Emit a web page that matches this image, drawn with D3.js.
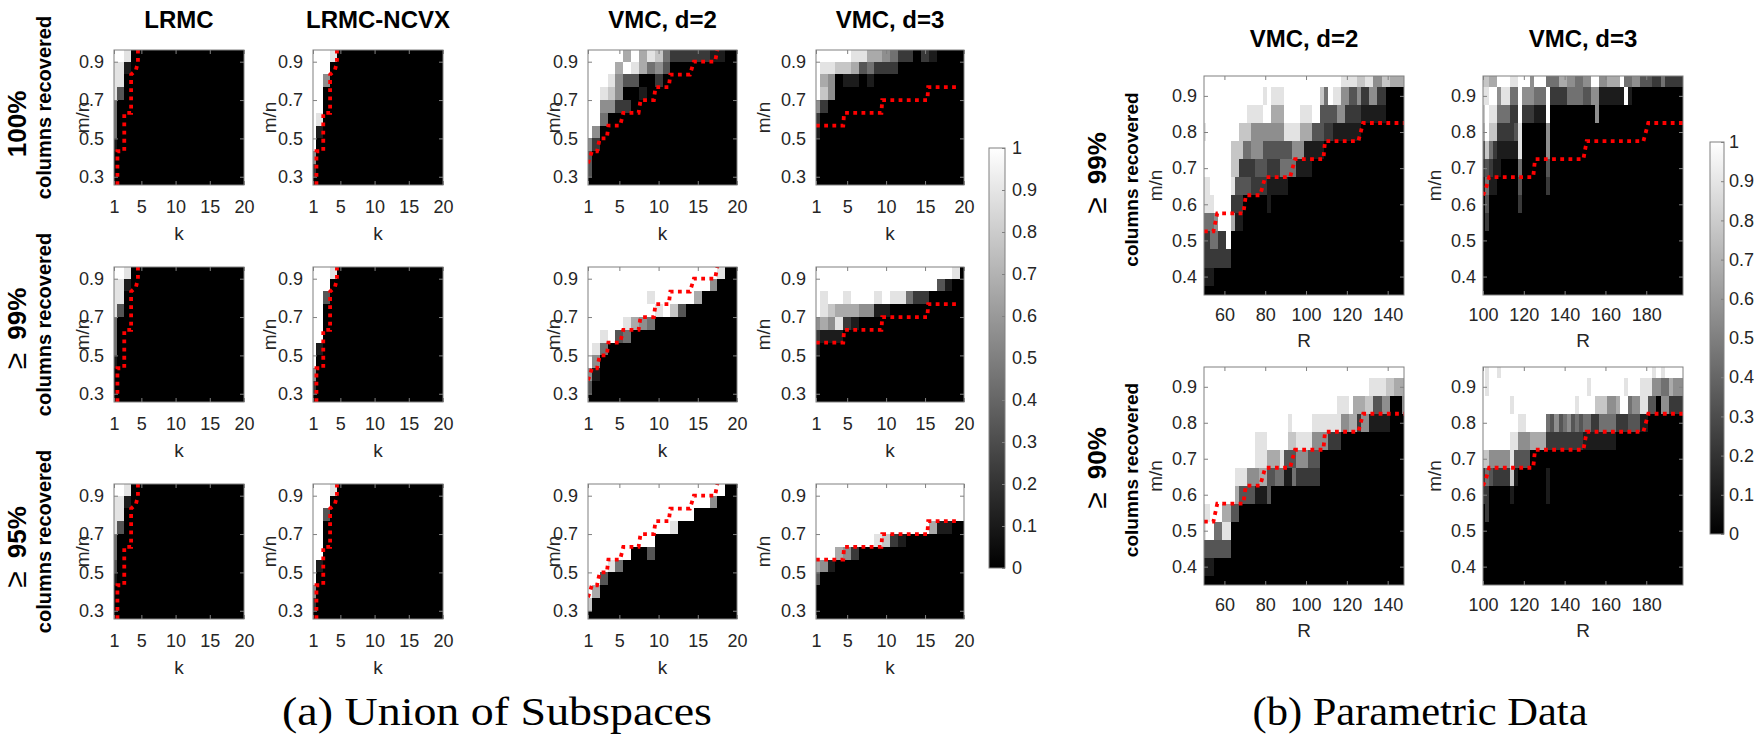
<!DOCTYPE html>
<html>
<head>
<meta charset="utf-8">
<script src="https://cdn.jsdelivr.net/npm/d3@7"></script>
<style>
body { margin: 0; background: #fff; }
svg { display: block; }
text { font-family: "Liberation Sans", Arial, Helvetica, sans-serif; }
</style>
</head>
<body>
<svg id="chart" width="1762" height="736"></svg>
<script>
// ---------- data (a) Union of Subspaces ----------
var kVals = [1,2,3,4,5,6,7,8,9,10,11,12,13,14,15,16,17,18,19,20];
var kTicks = [1,5,10,15,20];
// m/n row centres, top row first
var mnA = [0.9333,0.8667,0.8,0.7333,0.6667,0.6,0.5333,0.4667,0.4,0.3333,0.2667];
var mnTicksA = [0.3,0.5,0.7,0.9];

// gray level per cell, 0 = black ... 9 = white (rows top -> bottom, columns k=1..20)
var lrmc100 = ["9980000000 0000000000","8810000000 0000000000","8800000000 0000000000","8300000000 0000000000","4000000000 0000000000","4000000000 0000000000","4000000000 0000000000","1000000000 0000000000","0000000000 0000000000","0000000000 0000000000","0000000000 0000000000"];
var lrmc99  = ["9980000000 0000000000","8810000000 0000000000","8800000000 0000000000","8300000000 0000000000","4000000000 0000000000","4000000000 0000000000","4000000000 0000000000","1000000000 0000000000","0000000000 0000000000","0000000000 0000000000","0000000000 0000000000"];
var lrmc95  = ["9980000000 0000000000","8810000000 0000000000","8800000000 0000000000","8300000000 0000000000","4000000000 0000000000","4000000000 0000000000","3000000000 0000000000","1000000000 0000000000","0000000000 0000000000","0000000000 0000000000","0000000000 0000000000"];
var ncvx100 = ["9998000000 0000000000","9990000000 0000000000","9950000000 0000000000","9900000000 0000000000","9900000000 0000000000","9800000000 0000000000","9100000000 0000000000","9000000000 0000000000","5000000000 0000000000","2000000000 0000000000","0000000000 0000000000"];
var ncvx99  = ["9998000000 0000000000","9990000000 0000000000","9930000000 0000000000","9900000000 0000000000","9900000000 0000000000","9900000000 0000000000","9100000000 0000000000","9000000000 0000000000","5000000000 0000000000","2000000000 0000000000","0000000000 0000000000"];
var ncvx95  = ["9998000000 0000000000","9990000000 0000000000","9930000000 0000000000","9900000000 0000000000","9900000000 0000000000","9900000000 0000000000","9100000000 0000000000","9000000000 0000000000","5000000000 0000000000","2000000000 0000000000","0000000000 0000000000"];
var vmc2a100 = ["9999969687 4222221100","9999698645 3000000000","9998533002 0000000000","9987500100 0000000000","9955220000 0000000000","9940000000 0000000000","9500000000 0000000000","5200000000 0000000000","3000000000 0000000000","3000000000 0000000000","0000000000 0000000000"];
var vmc3a100 = ["9999988665 4220210000","9887763422 2000000000","9650110100 0000000000","9750000000 0000000000","5200000000 0000000000","2000000000 0000000000","1000000000 0000000000","0000000000 0000000000","0000000000 0000000000","0000000000 0000000000","0000000000 0000000000"];
var vmc2a99 = ["9999999999 9999999800","9999999999 9999995000","9999999989 9999600000","9999999998 9730000000","9999986540 0000000000","9989340000 0000000000","9840000000 0000000000","9500000000 0000000000","5100000000 0000000000","3000000000 0000000000","0000000000 0000000000"];
var vmc3a99 = ["9999999999 9999999980","9999999999 9999993100","9899899989 8842200000","9876665511 0000000000","5658210000 0000000000","2111000000 0000000000","1000000000 0000000000","0000000000 0000000000","0000000000 0000000000","0000000000 0000000000","0000000000 0000000000"];
var vmc2a95 = ["9999999999 9999999900","9999999999 9999995000","9999999999 9999000000","9999999999 9800000000","9999999990 0000000000","9999990030 0000000000","9998400000 0000000000","9930000000 0000000000","9600000000 0000000000","7000000000 0000000000","0000000000 0000000000"];
var vmc3a95 = ["9999999999 9999999999","9999999999 9999999999","9999999999 9999999999","9999999999 9999961100","9999999987 2100000000","9996520000 0000000000","6510000000 0000000000","3000000000 0000000000","0000000000 0000000000","0000000000 0000000000","0000000000 0000000000"];

// red dotted bounds, [k, m/n]
var lrmcBound = [[1.5,0.257],[1.5,0.433],[2.5,0.433],[2.5,0.633],[3.5,0.633],[3.5,0.833],[4.2,0.855],[4.5,0.9],[4.5,0.962]];
var vmc2aBound = [[1,0.37],[1.5,0.433],[2.15,0.433],[2.5,0.5],[3.4,0.5],[3.6,0.567],[5.1,0.567],[5.5,0.633],[7.45,0.633],[7.7,0.7],[9.4,0.7],[9.6,0.767],[11.3,0.767],[11.5,0.833],[14,0.833],[14.5,0.9],[17.2,0.9],[17.5,0.962]];
var vmc3aBound = [[1,0.567],[4.5,0.567],[4.6,0.633],[9.4,0.633],[9.5,0.7],[15.3,0.7],[15.4,0.767],[19.1,0.767]];

// ---------- data (b) Parametric Data ----------
var rD2 = [50,52,54,56,58,60,62,64,66,68,70,72,74,76,78,80,82,84,86,88,90,92,94,96,98,100,102,104,106,108,110,112,114,116,118,120,122,124,126,128,130,132,134,136,138,140,142,144,146,148];
var rD3 = [100,102,104,106,108,110,112,114,116,118,120,122,124,126,128,130,132,134,136,138,140,142,144,146,148,150,152,154,156,158,160,162,164,166,168,170,172,174,176,178,180,182,184,186,188,190,192,194,196,198];
var rTicks2 = [60,80,100,120,140];
var rTicks3 = [100,120,140,160,180];
var mnB = [0.95,0.9,0.85,0.8,0.75,0.7,0.65,0.6,0.55,0.5,0.45,0.4,0.35];
var mnTicksB = [0.4,0.5,0.6,0.7,0.8,0.9];

var vmc2b99 = [
 "9999999999 9999999999 9999999999 9999888877 8855776666",
 "9999999999 9999989888 9999999997 4988553352 2552200000",
 "9999999999 9888899666 9999888993 3335522221 1111100000",
 "8999999997 7755555555 8888666333 2211111110 0000000000",
 "9999999777 4455533333 3355511111 0000000000 0000000000",
 "9999999772 2223332224 4441111000 0000000000 0000000000",
 "8899999833 3322221111 1000000000 0000000000 0000000000",
 "8889999222 0000001000 0000000000 0000000000 0000000000",
 "4445999611 0000000000 0000000000 0000000000 0000000000",
 "2244229000 0000000000 0000000000 0000000000 0000000000",
 "2222222000 0000000000 0000000000 0000000000 0000000000",
 "1110000000 0000000000 0000000000 0000000000 0000000000",
 "0000000000 0000000000 0000000000 0000000000 0000000000"];
var vmc3b99 = [
 "7766999889 9959994446 6554455995 5666944553 3322422222",
 "8899588449 5554449222 2444433551 1111191000 0000000000",
 "7988444229 2221119000 0000000050 0000000000 0000000000",
 "6977222238 0000005000 0000000000 0000000000 0000000000",
 "3742111118 0000005000 0000000000 0000000000 0000000000",
 "2321100004 0000003000 0000000000 0000000000 0000000000",
 "1411000003 0000002000 0000000000 0000000000 0000000000",
 "0300000002 0000000000 0000000000 0000000000 0000000000",
 "0200000000 0000000000 0000000000 0000000000 0000000000",
 "0000000000 0000000000 0000000000 0000000000 0000000000",
 "0000000000 0000000000 0000000000 0000000000 0000000000",
 "0000000000 0000000000 0000000000 0000000000 0000000000",
 "0000000000 0000000000 0000000000 0000000000 0000000000"];
var vmc2b90 = [
 "9999999999 9999999999 9999999999 9999999999 9999999999",
 "9999999999 9999999999 9999999999 9999999999 9888877666",
 "9999999999 9999999999 9999999999 9998889666 7733550005",
 "9999999999 9999999999 9899999888 8888556625 5111110000",
 "9999999999 9998889999 9778888555 5222000000 0000000000",
 "9999999999 9998886668 3335553330 0000000000 0000000000",
 "9999999988 8555663344 1142222220 0000000000 0000000000",
 "9999999963 3331113000 0000000000 0000000000 0000000000",
 "8899966330 0000000000 0000000000 0000000000 0000000000",
 "8994488000 0000000000 0000000000 0000000000 0000000000",
 "3333333000 0000000000 0000000000 0000000000 0000000000",
 "1110000000 0000000000 0000000000 0000000000 0000000000",
 "0000000000 0000000000 0000000000 0000000000 0000000000"];
var vmc3b90 = [
 "9899899999 9999999999 9999999999 9999999999 9989899999",
 "9899999999 9999999999 9999998999 9999989998 8855446555",
 "9999999899 9999999999 9998999977 7556994558 8330552222",
 "9999999998 8999994353 4534344224 4442223331 1000000000",
 "9999999885 5566662222 2222211111 1110000000 0000000000",
 "7755555833 3300000000 0000000000 0000000000 0000000000",
 "2432222710 0000001000 0000000000 0000000000 0000000000",
 "2200000100 0000001000 0000000000 0000000000 0000000000",
 "0200000000 0000000000 0000000000 0000000000 0000000000",
 "0000000000 0000000000 0000000000 0000000000 0000000000",
 "0000000000 0000000000 0000000000 0000000000 0000000000",
 "0000000000 0000000000 0000000000 0000000000 0000000000",
 "0000000000 0000000000 0000000000 0000000000 0000000000"];

// [R, m/n]
var vmc2bBound = [[50,0.525],[54.6,0.525],[56.5,0.575],[69.3,0.575],[70.5,0.625],[77.5,0.625],[80,0.675],[92.2,0.675],[94.6,0.725],[108.5,0.725],[109.3,0.775],[125.6,0.775],[128,0.825],[148,0.825]];
var vmc3bBound = [[100,0.625],[101.5,0.645],[103,0.675],[124.6,0.675],[125.5,0.725],[149.2,0.725],[150.8,0.775],[178.6,0.775],[181,0.825],[198,0.825]];

var cbTicks = [0,0.1,0.2,0.3,0.4,0.5,0.6,0.7,0.8,0.9,1];
var titlesA = ["LRMC","LRMC-NCVX","VMC, d=2","VMC, d=3"];
var titlesB = ["VMC, d=2","VMC, d=3"];
var pctA = ["100%","99%","95%"];
var pctB = ["99%","90%"];

// ---------- drawing ----------
var svg = d3.select('#chart');
var defs = svg.append('defs');
var clipCount = 0;
var axisGray = '#808080';
var textGray = '#262626';

function grayOf(v) {
	var c = Math.round(v / 9 * 255);
	return 'rgb(' + c + ',' + c + ',' + c + ')';
}

function parseGrid(rows, n) {
	return rows.map(function(r) {
		var s = r.replace(/ /g, '');
		while (s.length < n) s += '0';
		return s.slice(0, n).split('').map(Number);
	});
}

function styleAxis(sel) {
	sel.select('.domain').remove();
	sel.selectAll('line').attr('stroke', axisGray);
	sel.selectAll('text').attr('fill', textGray).attr('font-size', '18px');
}

function drawHeat(p) {
	var g = svg.append('g').attr('transform', 'translate(' + p.x + ',' + p.y + ')');
	var x = d3.scaleLinear().domain(p.xDom).range([0, p.w]);
	var y = d3.scaleLinear().domain(p.yDom).range([p.h, 0]);

	var id = 'clip' + (clipCount++);
	defs.append('clipPath').attr('id', id)
		.append('rect').attr('width', p.w).attr('height', p.h);

	var cells = [];
	parseGrid(p.grid, p.xs.length).forEach(function(row, i) {
		row.forEach(function(v, j) {
			cells.push({ xc: p.xs[j], yc: p.ys[i], v: v });
		});
	});

	var inner = g.append('g').attr('clip-path', 'url(#' + id + ')');
	inner.append('g').attr('shape-rendering', 'crispEdges')
		.selectAll('rect')
		.data(cells)
		.enter()
		.append('rect')
		.attr('x', function(d) { return x(d.xc - p.dx / 2); })
		.attr('y', function(d) { return y(d.yc + p.dy / 2); })
		.attr('width', function(d) { return x(d.xc + p.dx / 2) - x(d.xc - p.dx / 2) + 0.5; })
		.attr('height', function(d) { return y(d.yc - p.dy / 2) - y(d.yc + p.dy / 2) + 0.5; })
		.attr('fill', function(d) { return grayOf(d.v); });

	inner.append('path')
		.datum(p.line)
		.attr('d', d3.line().x(function(d) { return x(d[0]); }).y(function(d) { return y(d[1]); }))
		.attr('fill', 'none')
		.attr('stroke', '#ff0000')
		.attr('stroke-width', 3.8)
		.attr('stroke-dasharray', '3.8 4.4');

	// ticks point inwards on all four sides, labels only bottom/left
	g.append('g').attr('transform', 'translate(0,' + p.h + ')')
		.call(d3.axisBottom(x).tickValues(p.xTicks).tickSizeInner(-4).tickSizeOuter(0)
			.tickPadding(p.xPad).tickFormat(d3.format('d')))
		.call(styleAxis);
	g.append('g')
		.call(d3.axisTop(x).tickValues(p.xTicks).tickSizeInner(-4).tickSizeOuter(0).tickFormat(''))
		.call(styleAxis);
	g.append('g')
		.call(d3.axisLeft(y).tickValues(p.yTicks).tickSizeInner(-4).tickSizeOuter(0)
			.tickPadding(p.yPad).tickFormat(d3.format('.1f')))
		.call(styleAxis);
	g.append('g').attr('transform', 'translate(' + p.w + ',0)')
		.call(d3.axisRight(y).tickValues(p.yTicks).tickSizeInner(-4).tickSizeOuter(0).tickFormat(''))
		.call(styleAxis);

	g.append('rect').attr('width', p.w).attr('height', p.h)
		.attr('fill', 'none').attr('stroke', axisGray).attr('stroke-width', 1);

	g.append('text')
		.attr('x', p.w / 2).attr('y', p.h + p.xLabOff).attr('dy', '0.35em')
		.attr('text-anchor', 'middle').attr('font-size', '19px').attr('fill', textGray)
		.text(p.xLabel);
	g.append('text')
		.attr('transform', 'translate(' + (-p.yLabOff) + ',' + (p.h / 2) + ') rotate(-90)')
		.attr('dy', '0.3em')
		.attr('text-anchor', 'middle').attr('font-size', '19px').attr('fill', textGray)
		.text('m/n');
}

function drawColorbar(c) {
	var id = 'grad' + (clipCount++);
	var grad = defs.append('linearGradient').attr('id', id)
		.attr('x1', 0).attr('y1', 1).attr('x2', 0).attr('y2', 0);
	grad.append('stop').attr('offset', '0%').attr('stop-color', '#000');
	grad.append('stop').attr('offset', '100%').attr('stop-color', '#fff');

	var g = svg.append('g').attr('transform', 'translate(' + c.x + ',' + c.y + ')');
	var s = d3.scaleLinear().domain([0, 1]).range([c.h, 0]);
	g.append('rect').attr('width', c.w).attr('height', c.h).attr('fill', 'url(#' + id + ')');
	g.append('g').attr('transform', 'translate(' + c.w + ',0)')
		.call(d3.axisRight(s).tickValues(cbTicks).tickSizeInner(-3).tickSizeOuter(0)
			.tickPadding(c.pad).tickFormat(function(d) { return String(d); }))
		.call(styleAxis);
	g.append('rect').attr('width', c.w).attr('height', c.h)
		.attr('fill', 'none').attr('stroke', axisGray).attr('stroke-width', 1);
}

function rowLabel(x, y, txt, withGe, fs) {
	var t = svg.append('text')
		.attr('transform', 'translate(' + x + ',' + y + ') rotate(-90)')
		.attr('text-anchor', 'middle').attr('dy', '0.36em')
		.attr('font-size', fs + 'px').attr('font-weight', 'bold').attr('fill', '#000');
	if (withGe) {
		t.append('tspan').attr('font-weight', 'normal').attr('font-size', (fs + 4) + 'px').text('\u2265');
		t.append('tspan').text('\u2002' + txt);
	} else {
		t.text(txt);
	}
}

function colRecovered(x, y, fs) {
	svg.append('text')
		.attr('transform', 'translate(' + x + ',' + y + ') rotate(-90)')
		.attr('text-anchor', 'middle').attr('dy', '0.36em')
		.attr('font-size', fs + 'px').attr('font-weight', 'bold').attr('fill', '#000')
		.text('columns recovered');
}

// (a) layout
var colsA = [
	{ x: 114, w: 130, yLabOff: 31, line: lrmcBound },
	{ x: 313, w: 130, yLabOff: 43, line: lrmcBound },
	{ x: 588, w: 149, yLabOff: 34, line: vmc2aBound },
	{ x: 816, w: 148, yLabOff: 52, line: vmc3aBound }
];
var rowsA = [{ y: 50, h: 135 }, { y: 267, h: 135 }, { y: 484, h: 135 }];
var gridsA = [
	[lrmc100, ncvx100, vmc2a100, vmc3a100],
	[lrmc99, ncvx99, vmc2a99, vmc3a99],
	[lrmc95, ncvx95, vmc2a95, vmc3a95]
];

rowsA.forEach(function(r, ri) {
	colsA.forEach(function(c, ci) {
		drawHeat({
			x: c.x, y: r.y, w: c.w, h: r.h,
			xDom: [1, 20], yDom: [0.257, 0.961],
			xs: kVals, ys: mnA, dx: 1, dy: 0.0667,
			grid: gridsA[ri][ci], line: c.line,
			xTicks: kTicks, yTicks: mnTicksA,
			xPad: 15, yPad: 10, xLabOff: 48, yLabOff: c.yLabOff, xLabel: 'k'
		});
	});
	var cy = r.y + r.h / 2;
	var shift = [6.5, -6, -4.5][ri];
	rowLabel(17, cy + shift, pctA[ri], ri > 0, 26);
	colRecovered(44, cy - 10, 20);
});

colsA.forEach(function(c, ci) {
	svg.append('text').attr('x', c.x + c.w / 2).attr('y', 28)
		.attr('text-anchor', 'middle').attr('font-size', '24px').attr('font-weight', 'bold')
		.attr('fill', '#000').text(titlesA[ci]);
});

drawColorbar({ x: 989, y: 148, w: 16, h: 420, pad: 7 });

// (b) layout
var colsB = [
	{ x: 1204, w: 200, xDom: [50, 148], xs: rD2, xTicks: rTicks2, line: vmc2bBound },
	{ x: 1483, w: 200, xDom: [100, 198], xs: rD3, xTicks: rTicks3, line: vmc3bBound }
];
var rowsB = [{ y: 76, h: 219 }, { y: 367, h: 218 }];
var gridsB = [[vmc2b99, vmc3b99], [vmc2b90, vmc3b90]];

rowsB.forEach(function(r, ri) {
	colsB.forEach(function(c, ci) {
		drawHeat({
			x: c.x, y: r.y, w: c.w, h: r.h,
			xDom: c.xDom, yDom: [0.349, 0.955],
			xs: c.xs, ys: mnB, dx: 2, dy: 0.05,
			grid: gridsB[ri][ci], line: c.line,
			xTicks: c.xTicks, yTicks: mnTicksB,
			xPad: 13, yPad: 7, xLabOff: 45, yLabOff: 48, xLabel: 'R'
		});
	});
	var cy = r.y + r.h / 2;
	rowLabel(1097, cy + [-12.5, -8][ri], pctB[ri], true, 26);
	colRecovered(1131, cy - 6, 19);
});

colsB.forEach(function(c, ci) {
	svg.append('text').attr('x', c.x + c.w / 2).attr('y', 47)
		.attr('text-anchor', 'middle').attr('font-size', '24px').attr('font-weight', 'bold')
		.attr('fill', '#000').text(titlesB[ci]);
});

drawColorbar({ x: 1710, y: 142, w: 14, h: 392, pad: 5 });

// captions (serif, like the LaTeX subcaptions)
svg.append('text').attr('x', 497).attr('y', 725).attr('text-anchor', 'middle')
	.style('font-family', '"Liberation Serif", "Times New Roman", serif').attr('font-size', '39px')
	.attr('textLength', 430).attr('lengthAdjust', 'spacingAndGlyphs')
	.text('(a) Union of Subspaces');
svg.append('text').attr('x', 1420).attr('y', 725).attr('text-anchor', 'middle')
	.style('font-family', '"Liberation Serif", "Times New Roman", serif').attr('font-size', '39px')
	.attr('textLength', 335).attr('lengthAdjust', 'spacingAndGlyphs')
	.text('(b) Parametric Data');
</script>
</body>
</html>
